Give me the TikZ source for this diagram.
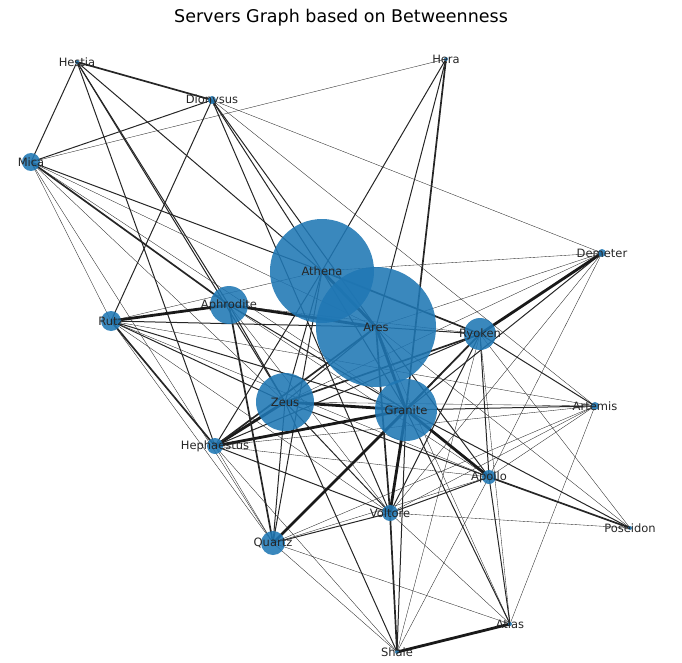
\documentclass[tikz,border=0pt]{standalone}
\usepackage{fontspec}
\setmainfont{DejaVu Sans}
\begin{document}
\begin{tikzpicture}[x=1pt,y=-1pt,
  nd/.style={circle,fill={rgb,255:red,31;green,119;blue,180},fill opacity=0.88,inner sep=0pt,draw=none},
  lb/.style={font=\fontsize{11.5}{13}\selectfont,text=black!85},
  e0/.style={line width=0.35pt,black!85},
  e1/.style={line width=1pt,black!85},
  e2/.style={line width=1.7pt,black!85},
  e3/.style={line width=2.8pt,black!90}]
\useasboundingbox (0,0) rectangle (682,663);
\node at (341,18) {\fontsize{17.5}{20}\selectfont Servers Graph based on Betweenness};
\foreach \n/\x/\y in {Hestia/77/62, Hera/446/59, Dionysus/212/100, Mica/31/162,
 Demeter/602/253, Athena/322/271, Aphrodite/229/305, Rutz/111/321,
 Ares/376/327, Ryoken/480/334, Zeus/285/402, Granite/406/410,
 Artemis/595/406, Hephaestus/215/446, Apollo/489/477, Voltore/390/513,
 Poseidon/630/528, Quartz/273/543, Atlas/510/624, Shale/397/652}
 {\coordinate (\n) at (\x,\y);}
% edges
\foreach \a/\b in {Hestia/Mica,Hestia/Athena,Hestia/Aphrodite,Hestia/Hephaestus,Hestia/Zeus,
 Hera/Athena,Hera/Ares,Dionysus/Athena,Dionysus/Ares,Dionysus/Rutz,Dionysus/Mica,
 Mica/Athena,Aphrodite/Zeus,Aphrodite/Granite,Rutz/Ares,Rutz/Granite,Rutz/Zeus,
 Athena/Granite,Athena/Zeus,Athena/Quartz,Athena/Hephaestus,Ares/Zeus,Ares/Ryoken,Ares/Apollo,
 Ryoken/Apollo,Ryoken/Hephaestus,Ryoken/Quartz,Ryoken/Artemis,Zeus/Voltore,Zeus/Apollo,Zeus/Shale,
 Granite/Atlas,Granite/Shale,Granite/Poseidon,Granite/Artemis,Voltore/Quartz,Voltore/Hephaestus,
 Voltore/Ryoken,Apollo/Voltore,Quartz/Zeus,Demeter/Granite,Atlas/Apollo,Dionysus/Voltore}
 {\draw[e1] (\a) -- (\b);}
\foreach \a/\b in {Rutz/Aphrodite,Hephaestus/Granite,Ares/Granite,Granite/Voltore,Zeus/Granite,
 Shale/Atlas,Granite/Apollo,Ryoken/Demeter,Granite/Quartz,Athena/Ares,Aphrodite/Ares,Hephaestus/Zeus}
 {\draw[e3] (\a) -- (\b);}
\foreach \a/\b in {Hera/Granite,Mica/Aphrodite,Rutz/Hephaestus,Athena/Ryoken,Ares/Voltore,Zeus/Ryoken,
 Granite/Ryoken,Apollo/Poseidon,Aphrodite/Quartz,Voltore/Shale,Hestia/Dionysus,Ares/Hephaestus}
 {\draw[e2] (\a) -- (\b);}
\foreach \a/\b in {Hera/Mica,Dionysus/Demeter,Dionysus/Artemis,Mica/Rutz,Mica/Zeus,Mica/Granite,Mica/Quartz,
 Rutz/Artemis,Rutz/Voltore,Rutz/Quartz,Rutz/Apollo,Demeter/Athena,Demeter/Ares,Demeter/Zeus,Demeter/Apollo,Demeter/Voltore,
 Artemis/Zeus,Artemis/Hephaestus,Artemis/Voltore,Artemis/Quartz,Artemis/Apollo,Artemis/Atlas,
 Hephaestus/Shale,Hephaestus/Apollo,Quartz/Atlas,Quartz/Shale,Quartz/Apollo,Shale/Ryoken,Shale/Apollo,
 Poseidon/Ryoken,Poseidon/Voltore,Poseidon/Ares,Atlas/Ryoken,Atlas/Ares,Voltore/Atlas,Aphrodite/Ryoken,
 Aphrodite/Voltore,Aphrodite/Apollo,Hephaestus/Quartz,Mica/Ares,Rutz/Athena}
 {\draw[e0] (\a) -- (\b);}
\foreach \n/\r in {Hestia/2, Hera/2, Dionysus/4, Mica/9, Demeter/4, Athena/52, Aphrodite/19, Rutz/10,
 Ares/60, Ryoken/16, Zeus/29, Granite/31, Artemis/4, Hephaestus/8, Apollo/7, Voltore/8,
 Poseidon/2, Quartz/12, Atlas/2, Shale/2}
 {\node[nd,minimum size=2*\r pt] (\n-n) at (\n) {};}
\foreach \n in {Hestia,Hera,Dionysus,Mica,Demeter,Athena,Aphrodite,Rutz,Ares,Ryoken,Zeus,Granite,
 Artemis,Hephaestus,Apollo,Voltore,Poseidon,Quartz,Atlas,Shale}
 {\node[lb] (\n-l) at (\n) {\n};}
\end{tikzpicture}
\end{document}
